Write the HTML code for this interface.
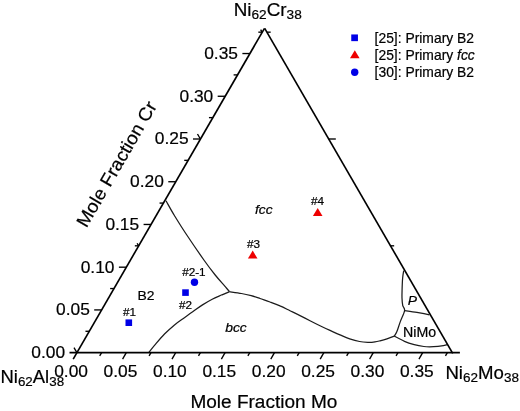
<!DOCTYPE html>
<html><head><meta charset="utf-8"><title>Ternary diagram</title>
<style>
html,body{margin:0;padding:0;background:#fff;}
body{width:520px;height:411px;overflow:hidden;}
svg{display:block;}
svg text{font-family:"Liberation Sans",Arial,sans-serif;fill:#000;stroke:#000;stroke-width:0.2px;}
</style></head><body>
<svg width="520" height="411" viewBox="0 0 520 411">
<rect width="520" height="411" fill="#fff"/>
<g id="curves">
<path d="M166.0,200.8 C167.4,203.2 170.9,209.8 174.4,215.5 C177.9,221.2 181.8,227.6 186.8,235.0 C191.7,242.4 199.2,253.3 203.9,260.0 C208.6,266.7 211.7,270.6 215.2,275.0 C218.7,279.4 222.6,283.6 225.0,286.4 C227.4,289.2 228.8,290.8 229.5,291.7" stroke="#1c1c1c" stroke-width="1.25" fill="none"/>
<path d="M148.9,352.4 C149.9,351.2 152.1,348.3 154.7,345.2 C157.3,342.1 161.2,337.3 164.5,334.0 C167.8,330.7 171.1,327.8 174.2,325.2 C177.3,322.6 179.9,320.9 183.0,318.7 C186.1,316.5 189.4,314.1 192.7,311.8 C195.9,309.5 199.2,307.0 202.5,304.9 C205.8,302.8 208.9,300.9 212.2,299.2 C215.4,297.5 219.1,296.1 222.0,294.8 C224.9,293.6 228.2,292.2 229.5,291.7" stroke="#1c1c1c" stroke-width="1.25" fill="none"/>
<path d="M229.5,291.7 C231.5,292.0 237.9,292.9 241.5,293.5 C245.1,294.1 248.1,294.8 251.2,295.6 C254.3,296.4 256.9,297.4 260.0,298.5 C263.1,299.6 266.7,300.8 270.0,302.0 C273.3,303.2 276.7,304.4 280.0,305.9 C283.3,307.3 286.7,309.1 290.0,310.7 C293.3,312.3 296.7,313.9 300.0,315.6 C303.3,317.3 306.7,319.0 310.0,320.7 C313.3,322.4 316.7,324.1 320.0,325.7 C323.3,327.3 326.7,328.9 330.0,330.4 C333.3,331.9 336.7,333.5 340.0,334.9 C343.3,336.3 346.4,337.7 349.7,338.8 C352.9,339.9 356.4,340.9 359.5,341.5 C362.6,342.1 365.4,342.2 368.0,342.3 C370.6,342.4 373.0,342.1 375.0,341.8 C377.0,341.6 378.0,341.3 380.0,340.8 C382.0,340.3 384.6,339.6 387.0,338.8 C389.4,338.0 393.1,336.6 394.3,336.1" stroke="#1c1c1c" stroke-width="1.25" fill="none"/>
<path d="M403.7,270.6 C403.5,271.8 403.0,274.4 402.7,277.5 C402.4,280.6 402.2,285.8 402.1,289.2 C402.0,292.6 401.9,295.3 402.0,298.0 C402.1,300.7 402.3,303.2 402.7,305.3 C403.1,307.4 405.0,307.9 404.6,310.6 C404.2,313.3 401.7,317.9 400.4,321.4 C399.1,324.9 397.9,329.2 396.9,331.6 C395.9,334.1 394.7,335.4 394.3,336.1" stroke="#1c1c1c" stroke-width="1.25" fill="none"/>
<path d="M404.6,310.6 C406.9,311.0 414.2,312.0 418.3,312.7 C422.4,313.4 427.5,314.4 429.4,314.8" stroke="#1c1c1c" stroke-width="1.25" fill="none"/>
<path d="M394.3,336.1 C396.0,337.0 401.2,339.9 404.5,341.3 C407.8,342.7 411.0,343.7 414.2,344.6 C417.4,345.5 420.7,346.1 423.9,346.5 C427.1,346.9 430.4,346.8 433.6,346.7 C436.9,346.6 441.0,346.0 443.4,345.6 C445.8,345.2 447.2,344.8 448.0,344.6" stroke="#1c1c1c" stroke-width="1.25" fill="none"/>
</g>
<g id="axes">
<line x1="69.50" y1="352.65" x2="459.90" y2="352.65" stroke="#000" stroke-width="1.65"/>
<line x1="73.20" y1="359.05" x2="264.50" y2="28.30" stroke="#000" stroke-width="1.65"/>
<line x1="264.70" y1="28.30" x2="452.70" y2="353.35" stroke="#000" stroke-width="1.65"/>
<line x1="89.25" y1="331.28" x2="85.45" y2="331.28" stroke="#000" stroke-width="1.35"/>
<line x1="101.60" y1="309.92" x2="94.20" y2="309.92" stroke="#000" stroke-width="1.35"/>
<line x1="113.95" y1="288.55" x2="110.15" y2="288.55" stroke="#000" stroke-width="1.35"/>
<line x1="126.29" y1="267.19" x2="118.89" y2="267.19" stroke="#000" stroke-width="1.35"/>
<line x1="138.64" y1="245.82" x2="134.84" y2="245.82" stroke="#000" stroke-width="1.35"/>
<line x1="150.99" y1="224.46" x2="143.59" y2="224.46" stroke="#000" stroke-width="1.35"/>
<line x1="163.34" y1="203.09" x2="159.54" y2="203.09" stroke="#000" stroke-width="1.35"/>
<line x1="175.69" y1="181.73" x2="168.29" y2="181.73" stroke="#000" stroke-width="1.35"/>
<line x1="188.04" y1="160.36" x2="184.24" y2="160.36" stroke="#000" stroke-width="1.35"/>
<line x1="200.39" y1="139.00" x2="192.99" y2="139.00" stroke="#000" stroke-width="1.35"/>
<line x1="212.74" y1="117.63" x2="208.94" y2="117.63" stroke="#000" stroke-width="1.35"/>
<line x1="225.08" y1="96.27" x2="217.68" y2="96.27" stroke="#000" stroke-width="1.35"/>
<line x1="237.43" y1="74.90" x2="233.63" y2="74.90" stroke="#000" stroke-width="1.35"/>
<line x1="249.78" y1="53.54" x2="242.38" y2="53.54" stroke="#000" stroke-width="1.35"/>
<line x1="262.13" y1="32.17" x2="258.33" y2="32.17" stroke="#000" stroke-width="1.35"/>
<line x1="76.90" y1="352.65" x2="74.00" y2="347.63" stroke="#000" stroke-width="1.35"/>
<line x1="138.64" y1="245.82" x2="137.14" y2="243.23" stroke="#000" stroke-width="1.35"/>
<line x1="200.39" y1="139.00" x2="197.49" y2="133.98" stroke="#000" stroke-width="1.35"/>
<line x1="262.13" y1="32.17" x2="260.63" y2="29.58" stroke="#000" stroke-width="1.35"/>
<line x1="101.60" y1="352.65" x2="99.70" y2="355.94" stroke="#000" stroke-width="1.35"/>
<line x1="126.29" y1="352.65" x2="122.59" y2="359.06" stroke="#000" stroke-width="1.35"/>
<line x1="150.99" y1="352.65" x2="149.09" y2="355.94" stroke="#000" stroke-width="1.35"/>
<line x1="175.69" y1="352.65" x2="171.99" y2="359.06" stroke="#000" stroke-width="1.35"/>
<line x1="200.39" y1="352.65" x2="198.49" y2="355.94" stroke="#000" stroke-width="1.35"/>
<line x1="225.08" y1="352.65" x2="221.38" y2="359.06" stroke="#000" stroke-width="1.35"/>
<line x1="249.78" y1="352.65" x2="247.88" y2="355.94" stroke="#000" stroke-width="1.35"/>
<line x1="274.48" y1="352.65" x2="270.78" y2="359.06" stroke="#000" stroke-width="1.35"/>
<line x1="299.18" y1="352.65" x2="297.28" y2="355.94" stroke="#000" stroke-width="1.35"/>
<line x1="323.87" y1="352.65" x2="320.17" y2="359.06" stroke="#000" stroke-width="1.35"/>
<line x1="348.57" y1="352.65" x2="346.67" y2="355.94" stroke="#000" stroke-width="1.35"/>
<line x1="373.27" y1="352.65" x2="369.57" y2="359.06" stroke="#000" stroke-width="1.35"/>
<line x1="397.97" y1="352.65" x2="396.07" y2="355.94" stroke="#000" stroke-width="1.35"/>
<line x1="422.66" y1="352.65" x2="418.96" y2="359.06" stroke="#000" stroke-width="1.35"/>
<line x1="447.36" y1="352.65" x2="445.46" y2="355.94" stroke="#000" stroke-width="1.35"/>
<line x1="390.56" y1="245.82" x2="394.16" y2="245.82" stroke="#000" stroke-width="1.35"/>
<line x1="328.81" y1="139.00" x2="335.81" y2="139.00" stroke="#000" stroke-width="1.35"/>
<line x1="267.07" y1="32.17" x2="270.67" y2="32.17" stroke="#000" stroke-width="1.35"/>
</g>
<g id="ticklabels">
<text transform="translate(65.10,358.00) scale(1.028,1)" font-size="16.9" text-anchor="end">0.00</text>
<text transform="translate(89.80,315.27) scale(1.028,1)" font-size="16.9" text-anchor="end">0.05</text>
<text transform="translate(114.49,272.54) scale(1.028,1)" font-size="16.9" text-anchor="end">0.10</text>
<text transform="translate(139.19,229.81) scale(1.028,1)" font-size="16.9" text-anchor="end">0.15</text>
<text transform="translate(163.89,187.08) scale(1.028,1)" font-size="16.9" text-anchor="end">0.20</text>
<text transform="translate(188.59,144.35) scale(1.028,1)" font-size="16.9" text-anchor="end">0.25</text>
<text transform="translate(213.28,101.62) scale(1.028,1)" font-size="16.9" text-anchor="end">0.30</text>
<text transform="translate(237.98,58.89) scale(1.028,1)" font-size="16.9" text-anchor="end">0.35</text>
<text transform="translate(71.10,376.55) scale(1.028,1)" font-size="16.9" text-anchor="middle">0.00</text>
<text transform="translate(120.49,376.55) scale(1.028,1)" font-size="16.9" text-anchor="middle">0.05</text>
<text transform="translate(169.89,376.55) scale(1.028,1)" font-size="16.9" text-anchor="middle">0.10</text>
<text transform="translate(219.28,376.55) scale(1.028,1)" font-size="16.9" text-anchor="middle">0.15</text>
<text transform="translate(268.68,376.55) scale(1.028,1)" font-size="16.9" text-anchor="middle">0.20</text>
<text transform="translate(318.07,376.55) scale(1.028,1)" font-size="16.9" text-anchor="middle">0.25</text>
<text transform="translate(367.47,376.55) scale(1.028,1)" font-size="16.9" text-anchor="middle">0.30</text>
<text transform="translate(416.86,376.55) scale(1.028,1)" font-size="16.9" text-anchor="middle">0.35</text>
</g>
<g id="titles">
<text transform="translate(233.7,15.5) scale(1.02,1)" font-size="18.5">Ni<tspan font-size="13.4" dy="3.4">62</tspan><tspan dy="-3.4">Cr</tspan><tspan font-size="13.4" dy="3.4">38</tspan></text>
<text transform="translate(0.5,382.6) scale(0.998,1)" font-size="18.5">Ni<tspan font-size="13.4" dy="3.4">62</tspan><tspan dy="-3.4">Al</tspan><tspan font-size="13.4" dy="3.4">38</tspan></text>
<text transform="translate(445.4,378.8) scale(1.008,1)" font-size="18.5">Ni<tspan font-size="13.4" dy="3.4">62</tspan><tspan dy="-3.4">Mo</tspan><tspan font-size="13.4" dy="3.4">38</tspan></text>
<text transform="translate(190.40,408.10) scale(1.04,1)" font-size="18.3" text-anchor="start">Mole Fraction Mo</text>
<text transform="translate(86.60,228.60) rotate(-60) scale(1.048,1)" font-size="18.3" text-anchor="start">Mole Fraction Cr</text>
</g>
<g id="markers">
<rect x="125.50" y="319.40" width="6.6" height="6.6" fill="#0000e6"/>
<rect x="182.20" y="289.30" width="6.6" height="6.6" fill="#0000e6"/>
<circle cx="194.5" cy="282.2" r="3.7" fill="#0000e6"/>
<path d="M252.7,250.6 L257.5,258.6 L247.89999999999998,258.6 Z" fill="#ee0000"/>
<path d="M317.7,207.9 L322.5,215.9 L312.9,215.9 Z" fill="#ee0000"/>
</g>
<g id="ptlabels">
<text transform="translate(129.60,316.30) scale(1.03,1)" font-size="11.4" text-anchor="middle">#1</text>
<text transform="translate(185.60,308.90) scale(1.03,1)" font-size="11.4" text-anchor="middle">#2</text>
<text transform="translate(193.90,275.60) scale(1.03,1)" font-size="11.4" text-anchor="middle">#2-1</text>
<text transform="translate(253.50,248.00) scale(1.03,1)" font-size="11.4" text-anchor="middle">#3</text>
<text transform="translate(317.60,204.60) scale(1.03,1)" font-size="11.4" text-anchor="middle">#4</text>
<text transform="translate(146.10,299.80) scale(1.03,1)" font-size="13.5" text-anchor="middle">B2</text>
<text transform="translate(263.80,213.80) scale(1.03,1)" font-size="13.5" text-anchor="middle" font-style="italic">fcc</text>
<text transform="translate(236.00,331.70) scale(1.03,1)" font-size="13.5" text-anchor="middle" font-style="italic">bcc</text>
<text transform="translate(412.50,304.80) scale(1.03,1)" font-size="13.5" text-anchor="middle" font-style="italic">P</text>
<text transform="translate(419.60,337.40) scale(1.03,1)" font-size="13.8" text-anchor="middle">NiMo</text>
</g>
<g id="legend">
<rect x="351.25" y="34.45" width="6.7" height="6.7" fill="#0000e6"/>
<path d="M354.8,50.3 L359.6,58.3 L350.0,58.3 Z" fill="#ee0000"/>
<circle cx="354.7" cy="72.2" r="3.7" fill="#0000e6"/>
<text transform="translate(374.60,42.80) scale(1.005,1)" font-size="13.8" text-anchor="start">[25]: Primary B2</text>
<text transform="translate(374.60,59.80) scale(1.005,1)" font-size="13.8" text-anchor="start">[25]: Primary <tspan font-style="italic">fcc</tspan></text>
<text transform="translate(374.60,76.70) scale(1.005,1)" font-size="13.8" text-anchor="start">[30]: Primary B2</text>
</g>
</svg>
</body></html>
